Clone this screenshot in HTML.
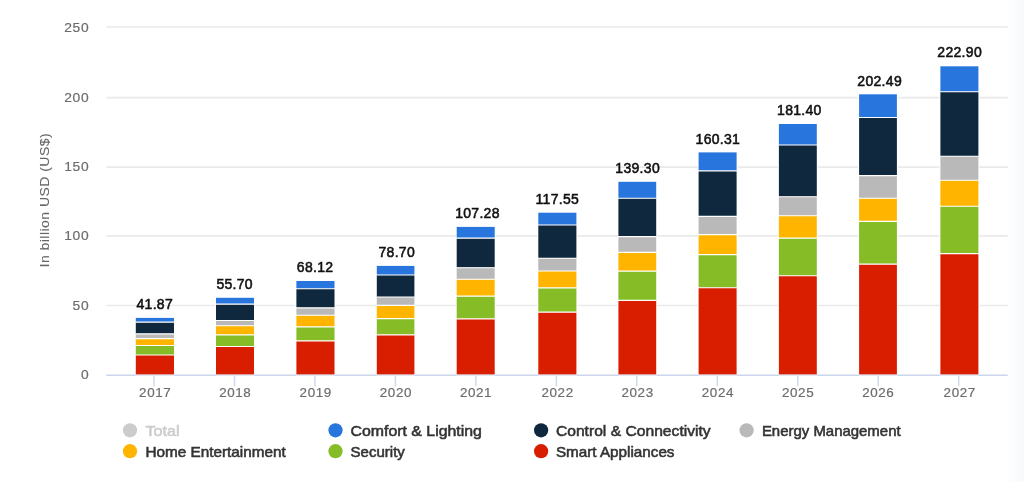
<!DOCTYPE html>
<html><head><meta charset="utf-8"><title>Smart Home revenue</title>
<style>
html,body{margin:0;padding:0;background:#fff;}
body{width:1024px;height:482px;overflow:hidden;position:relative;font-family:"Liberation Sans",sans-serif;}
svg{position:absolute;left:0;top:0;display:block;will-change:transform;filter:blur(0.4px);}
svg text{font-family:"Liberation Sans",sans-serif;}
.edge{position:absolute;right:0;top:0;width:18px;height:482px;background:linear-gradient(to right,rgba(246,248,250,0),rgba(246,248,250,1));}
</style></head><body>
<div class="edge"></div>
<svg width="1024" height="482" viewBox="0 0 1024 482">
<g stroke="#eaeaea" stroke-width="1.7">
<line x1="106.3" x2="1007.7" y1="27.0" y2="27.0"/>
<line x1="106.3" x2="1007.7" y1="97.6" y2="97.6"/>
<line x1="106.3" x2="1007.7" y1="167.1" y2="167.1"/>
<line x1="106.3" x2="1007.7" y1="235.8" y2="235.8"/>
<line x1="106.3" x2="1007.7" y1="305.5" y2="305.5"/>
</g>
<g><rect x="134.8" y="316.9" width="40.2" height="58.0" fill="#fff"/><rect x="135.8" y="317.9" width="38.2" height="4.2" fill="#2875dd"/><rect x="135.8" y="322.1" width="38.2" height="11.8" fill="#0f283e"/><rect x="135.8" y="333.9" width="38.2" height="4.7" fill="#b9b9b9"/><rect x="135.8" y="338.6" width="38.2" height="6.9" fill="#ffb400"/><rect x="135.8" y="345.5" width="38.2" height="9.5" fill="#86bc25"/><rect x="135.8" y="355.0" width="38.2" height="19.9" fill="#d91e00"/><line x1="135.3" x2="174.5" y1="322.1" y2="322.1" stroke="#fff" stroke-width="1.1"/><line x1="135.3" x2="174.5" y1="333.9" y2="333.9" stroke="#fff" stroke-width="1.1"/><line x1="135.3" x2="174.5" y1="338.6" y2="338.6" stroke="#fff" stroke-width="1.1"/><line x1="135.3" x2="174.5" y1="345.5" y2="345.5" stroke="#fff" stroke-width="1.1"/><line x1="135.3" x2="174.5" y1="355.0" y2="355.0" stroke="#fff" stroke-width="1.1"/></g>
<g><rect x="215.0" y="296.8" width="40.0" height="78.1" fill="#fff"/><rect x="216.0" y="297.8" width="38.0" height="6.3" fill="#2875dd"/><rect x="216.0" y="304.1" width="38.0" height="16.4" fill="#0f283e"/><rect x="216.0" y="320.5" width="38.0" height="5.3" fill="#b9b9b9"/><rect x="216.0" y="325.8" width="38.0" height="9.1" fill="#ffb400"/><rect x="216.0" y="334.9" width="38.0" height="11.6" fill="#86bc25"/><rect x="216.0" y="346.5" width="38.0" height="28.4" fill="#d91e00"/><line x1="215.5" x2="254.5" y1="304.1" y2="304.1" stroke="#fff" stroke-width="1.1"/><line x1="215.5" x2="254.5" y1="320.5" y2="320.5" stroke="#fff" stroke-width="1.1"/><line x1="215.5" x2="254.5" y1="325.8" y2="325.8" stroke="#fff" stroke-width="1.1"/><line x1="215.5" x2="254.5" y1="334.9" y2="334.9" stroke="#fff" stroke-width="1.1"/><line x1="215.5" x2="254.5" y1="346.5" y2="346.5" stroke="#fff" stroke-width="1.1"/></g>
<g><rect x="295.4" y="280.0" width="40.1" height="94.9" fill="#fff"/><rect x="296.4" y="281.0" width="38.1" height="7.7" fill="#2875dd"/><rect x="296.4" y="288.7" width="38.1" height="19.2" fill="#0f283e"/><rect x="296.4" y="307.9" width="38.1" height="7.3" fill="#b9b9b9"/><rect x="296.4" y="315.2" width="38.1" height="11.7" fill="#ffb400"/><rect x="296.4" y="326.9" width="38.1" height="14.0" fill="#86bc25"/><rect x="296.4" y="340.9" width="38.1" height="34.0" fill="#d91e00"/><line x1="295.9" x2="335.0" y1="288.7" y2="288.7" stroke="#fff" stroke-width="1.1"/><line x1="295.9" x2="335.0" y1="307.9" y2="307.9" stroke="#fff" stroke-width="1.1"/><line x1="295.9" x2="335.0" y1="315.2" y2="315.2" stroke="#fff" stroke-width="1.1"/><line x1="295.9" x2="335.0" y1="326.9" y2="326.9" stroke="#fff" stroke-width="1.1"/><line x1="295.9" x2="335.0" y1="340.9" y2="340.9" stroke="#fff" stroke-width="1.1"/></g>
<g><rect x="375.8" y="264.9" width="39.6" height="110.0" fill="#fff"/><rect x="376.8" y="265.9" width="37.6" height="9.1" fill="#2875dd"/><rect x="376.8" y="275.0" width="37.6" height="22.0" fill="#0f283e"/><rect x="376.8" y="297.0" width="37.6" height="8.4" fill="#b9b9b9"/><rect x="376.8" y="305.4" width="37.6" height="13.2" fill="#ffb400"/><rect x="376.8" y="318.6" width="37.6" height="16.3" fill="#86bc25"/><rect x="376.8" y="334.9" width="37.6" height="40.0" fill="#d91e00"/><line x1="376.3" x2="414.9" y1="275.0" y2="275.0" stroke="#fff" stroke-width="1.1"/><line x1="376.3" x2="414.9" y1="297.0" y2="297.0" stroke="#fff" stroke-width="1.1"/><line x1="376.3" x2="414.9" y1="305.4" y2="305.4" stroke="#fff" stroke-width="1.1"/><line x1="376.3" x2="414.9" y1="318.6" y2="318.6" stroke="#fff" stroke-width="1.1"/><line x1="376.3" x2="414.9" y1="334.9" y2="334.9" stroke="#fff" stroke-width="1.1"/></g>
<g><rect x="455.7" y="225.9" width="40.0" height="149.0" fill="#fff"/><rect x="456.7" y="226.9" width="38.0" height="11.2" fill="#2875dd"/><rect x="456.7" y="238.1" width="38.0" height="29.6" fill="#0f283e"/><rect x="456.7" y="267.7" width="38.0" height="11.6" fill="#b9b9b9"/><rect x="456.7" y="279.3" width="38.0" height="16.8" fill="#ffb400"/><rect x="456.7" y="296.1" width="38.0" height="22.8" fill="#86bc25"/><rect x="456.7" y="318.9" width="38.0" height="56.0" fill="#d91e00"/><line x1="456.2" x2="495.2" y1="238.1" y2="238.1" stroke="#fff" stroke-width="1.1"/><line x1="456.2" x2="495.2" y1="267.7" y2="267.7" stroke="#fff" stroke-width="1.1"/><line x1="456.2" x2="495.2" y1="279.3" y2="279.3" stroke="#fff" stroke-width="1.1"/><line x1="456.2" x2="495.2" y1="296.1" y2="296.1" stroke="#fff" stroke-width="1.1"/><line x1="456.2" x2="495.2" y1="318.9" y2="318.9" stroke="#fff" stroke-width="1.1"/></g>
<g><rect x="537.3" y="211.7" width="40.1" height="163.2" fill="#fff"/><rect x="538.3" y="212.7" width="38.1" height="12.3" fill="#2875dd"/><rect x="538.3" y="225.0" width="38.1" height="33.3" fill="#0f283e"/><rect x="538.3" y="258.3" width="38.1" height="12.7" fill="#b9b9b9"/><rect x="538.3" y="271.0" width="38.1" height="16.9" fill="#ffb400"/><rect x="538.3" y="287.9" width="38.1" height="24.2" fill="#86bc25"/><rect x="538.3" y="312.1" width="38.1" height="62.8" fill="#d91e00"/><line x1="537.8" x2="576.9" y1="225.0" y2="225.0" stroke="#fff" stroke-width="1.1"/><line x1="537.8" x2="576.9" y1="258.3" y2="258.3" stroke="#fff" stroke-width="1.1"/><line x1="537.8" x2="576.9" y1="271.0" y2="271.0" stroke="#fff" stroke-width="1.1"/><line x1="537.8" x2="576.9" y1="287.9" y2="287.9" stroke="#fff" stroke-width="1.1"/><line x1="537.8" x2="576.9" y1="312.1" y2="312.1" stroke="#fff" stroke-width="1.1"/></g>
<g><rect x="617.4" y="180.8" width="39.8" height="194.1" fill="#fff"/><rect x="618.4" y="181.8" width="37.8" height="16.4" fill="#2875dd"/><rect x="618.4" y="198.2" width="37.8" height="38.4" fill="#0f283e"/><rect x="618.4" y="236.6" width="37.8" height="15.8" fill="#b9b9b9"/><rect x="618.4" y="252.4" width="37.8" height="18.7" fill="#ffb400"/><rect x="618.4" y="271.1" width="37.8" height="29.3" fill="#86bc25"/><rect x="618.4" y="300.4" width="37.8" height="74.5" fill="#d91e00"/><line x1="617.9" x2="656.7" y1="198.2" y2="198.2" stroke="#fff" stroke-width="1.1"/><line x1="617.9" x2="656.7" y1="236.6" y2="236.6" stroke="#fff" stroke-width="1.1"/><line x1="617.9" x2="656.7" y1="252.4" y2="252.4" stroke="#fff" stroke-width="1.1"/><line x1="617.9" x2="656.7" y1="271.1" y2="271.1" stroke="#fff" stroke-width="1.1"/><line x1="617.9" x2="656.7" y1="300.4" y2="300.4" stroke="#fff" stroke-width="1.1"/></g>
<g><rect x="697.6" y="151.4" width="40.0" height="223.5" fill="#fff"/><rect x="698.6" y="152.4" width="38.0" height="18.5" fill="#2875dd"/><rect x="698.6" y="170.9" width="38.0" height="45.5" fill="#0f283e"/><rect x="698.6" y="216.4" width="38.0" height="18.2" fill="#b9b9b9"/><rect x="698.6" y="234.6" width="38.0" height="20.0" fill="#ffb400"/><rect x="698.6" y="254.6" width="38.0" height="33.1" fill="#86bc25"/><rect x="698.6" y="287.7" width="38.0" height="87.2" fill="#d91e00"/><line x1="698.1" x2="737.1" y1="170.9" y2="170.9" stroke="#fff" stroke-width="1.1"/><line x1="698.1" x2="737.1" y1="216.4" y2="216.4" stroke="#fff" stroke-width="1.1"/><line x1="698.1" x2="737.1" y1="234.6" y2="234.6" stroke="#fff" stroke-width="1.1"/><line x1="698.1" x2="737.1" y1="254.6" y2="254.6" stroke="#fff" stroke-width="1.1"/><line x1="698.1" x2="737.1" y1="287.7" y2="287.7" stroke="#fff" stroke-width="1.1"/></g>
<g><rect x="777.9" y="123.0" width="39.9" height="251.9" fill="#fff"/><rect x="778.9" y="124.0" width="37.9" height="21.0" fill="#2875dd"/><rect x="778.9" y="145.0" width="37.9" height="51.8" fill="#0f283e"/><rect x="778.9" y="196.8" width="37.9" height="18.9" fill="#b9b9b9"/><rect x="778.9" y="215.7" width="37.9" height="22.4" fill="#ffb400"/><rect x="778.9" y="238.1" width="37.9" height="37.7" fill="#86bc25"/><rect x="778.9" y="275.8" width="37.9" height="99.1" fill="#d91e00"/><line x1="778.4" x2="817.3" y1="145.0" y2="145.0" stroke="#fff" stroke-width="1.1"/><line x1="778.4" x2="817.3" y1="196.8" y2="196.8" stroke="#fff" stroke-width="1.1"/><line x1="778.4" x2="817.3" y1="215.7" y2="215.7" stroke="#fff" stroke-width="1.1"/><line x1="778.4" x2="817.3" y1="238.1" y2="238.1" stroke="#fff" stroke-width="1.1"/><line x1="778.4" x2="817.3" y1="275.8" y2="275.8" stroke="#fff" stroke-width="1.1"/></g>
<g><rect x="858.1" y="93.3" width="39.8" height="281.6" fill="#fff"/><rect x="859.1" y="94.3" width="37.8" height="23.2" fill="#2875dd"/><rect x="859.1" y="117.5" width="37.8" height="58.1" fill="#0f283e"/><rect x="859.1" y="175.6" width="37.8" height="22.7" fill="#b9b9b9"/><rect x="859.1" y="198.3" width="37.8" height="23.1" fill="#ffb400"/><rect x="859.1" y="221.4" width="37.8" height="42.7" fill="#86bc25"/><rect x="859.1" y="264.1" width="37.8" height="110.8" fill="#d91e00"/><line x1="858.6" x2="897.4" y1="117.5" y2="117.5" stroke="#fff" stroke-width="1.1"/><line x1="858.6" x2="897.4" y1="175.6" y2="175.6" stroke="#fff" stroke-width="1.1"/><line x1="858.6" x2="897.4" y1="198.3" y2="198.3" stroke="#fff" stroke-width="1.1"/><line x1="858.6" x2="897.4" y1="221.4" y2="221.4" stroke="#fff" stroke-width="1.1"/><line x1="858.6" x2="897.4" y1="264.1" y2="264.1" stroke="#fff" stroke-width="1.1"/></g>
<g><rect x="939.4" y="65.3" width="40.0" height="309.6" fill="#fff"/><rect x="940.4" y="66.3" width="38.0" height="25.5" fill="#2875dd"/><rect x="940.4" y="91.8" width="38.0" height="64.5" fill="#0f283e"/><rect x="940.4" y="156.3" width="38.0" height="24.0" fill="#b9b9b9"/><rect x="940.4" y="180.3" width="38.0" height="25.9" fill="#ffb400"/><rect x="940.4" y="206.2" width="38.0" height="47.4" fill="#86bc25"/><rect x="940.4" y="253.6" width="38.0" height="121.3" fill="#d91e00"/><line x1="939.9" x2="978.9" y1="91.8" y2="91.8" stroke="#fff" stroke-width="1.1"/><line x1="939.9" x2="978.9" y1="156.3" y2="156.3" stroke="#fff" stroke-width="1.1"/><line x1="939.9" x2="978.9" y1="180.3" y2="180.3" stroke="#fff" stroke-width="1.1"/><line x1="939.9" x2="978.9" y1="206.2" y2="206.2" stroke="#fff" stroke-width="1.1"/><line x1="939.9" x2="978.9" y1="253.6" y2="253.6" stroke="#fff" stroke-width="1.1"/></g>
<line x1="106.3" x2="1007.7" y1="375.2" y2="375.2" stroke="#ccd6eb" stroke-width="1.4"/>
<line x1="135.3" x2="174.5" y1="375.2" y2="375.2" stroke="#fff" stroke-opacity="0.45" stroke-width="1.6"/>
<line x1="215.5" x2="254.5" y1="375.2" y2="375.2" stroke="#fff" stroke-opacity="0.45" stroke-width="1.6"/>
<line x1="295.9" x2="335.0" y1="375.2" y2="375.2" stroke="#fff" stroke-opacity="0.45" stroke-width="1.6"/>
<line x1="376.3" x2="414.9" y1="375.2" y2="375.2" stroke="#fff" stroke-opacity="0.45" stroke-width="1.6"/>
<line x1="456.2" x2="495.2" y1="375.2" y2="375.2" stroke="#fff" stroke-opacity="0.45" stroke-width="1.6"/>
<line x1="537.8" x2="576.9" y1="375.2" y2="375.2" stroke="#fff" stroke-opacity="0.45" stroke-width="1.6"/>
<line x1="617.9" x2="656.7" y1="375.2" y2="375.2" stroke="#fff" stroke-opacity="0.45" stroke-width="1.6"/>
<line x1="698.1" x2="737.1" y1="375.2" y2="375.2" stroke="#fff" stroke-opacity="0.45" stroke-width="1.6"/>
<line x1="778.4" x2="817.3" y1="375.2" y2="375.2" stroke="#fff" stroke-opacity="0.45" stroke-width="1.6"/>
<line x1="858.6" x2="897.4" y1="375.2" y2="375.2" stroke="#fff" stroke-opacity="0.45" stroke-width="1.6"/>
<line x1="939.9" x2="978.9" y1="375.2" y2="375.2" stroke="#fff" stroke-opacity="0.45" stroke-width="1.6"/>
<g stroke="#d0d9ed" stroke-width="1.5">
<line x1="154.0" x2="154.0" y1="375.4" y2="386.2"/>
<line x1="234.5" x2="234.5" y1="375.4" y2="386.2"/>
<line x1="314.9" x2="314.9" y1="375.4" y2="386.2"/>
<line x1="395.4" x2="395.4" y1="375.4" y2="386.2"/>
<line x1="475.9" x2="475.9" y1="375.4" y2="386.2"/>
<line x1="556.4" x2="556.4" y1="375.4" y2="386.2"/>
<line x1="636.8" x2="636.8" y1="375.4" y2="386.2"/>
<line x1="717.3" x2="717.3" y1="375.4" y2="386.2"/>
<line x1="797.8" x2="797.8" y1="375.4" y2="386.2"/>
<line x1="878.2" x2="878.2" y1="375.4" y2="386.2"/>
<line x1="958.7" x2="958.7" y1="375.4" y2="386.2"/>
</g>
<g font-size="12.6" fill="#6c6c6c" stroke="#6c6c6c" stroke-width="0.18" text-anchor="end" letter-spacing="0.55">
<text transform="translate(88.6,32.3) scale(1.1,1)" x="0.55" y="0">250</text>
<text transform="translate(88.6,101.9) scale(1.1,1)" x="0.55" y="0">200</text>
<text transform="translate(88.6,170.7) scale(1.1,1)" x="0.55" y="0">150</text>
<text transform="translate(88.6,239.7) scale(1.1,1)" x="0.55" y="0">100</text>
<text transform="translate(88.6,309.6) scale(1.1,1)" x="0.55" y="0">50</text>
<text transform="translate(88.6,379.3) scale(1.1,1)" x="0.55" y="0">0</text>
</g>
<g font-size="12.2" fill="#6c6c6c" stroke="#6c6c6c" stroke-width="0.18" text-anchor="middle" letter-spacing="0.55">
<text transform="translate(154.9,397.1) scale(1.1,1)" x="0.28" y="0">2017</text>
<text transform="translate(235.0,397.1) scale(1.1,1)" x="0.28" y="0">2018</text>
<text transform="translate(315.4,397.1) scale(1.1,1)" x="0.28" y="0">2019</text>
<text transform="translate(395.6,397.1) scale(1.1,1)" x="0.28" y="0">2020</text>
<text transform="translate(475.7,397.1) scale(1.1,1)" x="0.28" y="0">2021</text>
<text transform="translate(557.3,397.1) scale(1.1,1)" x="0.28" y="0">2022</text>
<text transform="translate(637.3,397.1) scale(1.1,1)" x="0.28" y="0">2023</text>
<text transform="translate(717.6,397.1) scale(1.1,1)" x="0.28" y="0">2024</text>
<text transform="translate(797.8,397.1) scale(1.1,1)" x="0.28" y="0">2025</text>
<text transform="translate(878.0,397.1) scale(1.1,1)" x="0.28" y="0">2026</text>
<text transform="translate(959.4,397.1) scale(1.1,1)" x="0.28" y="0">2027</text>
</g>
<g font-size="14" font-weight="normal" fill="#111" stroke="#111" stroke-width="0.55" text-anchor="middle" letter-spacing="0.3">
<text transform="translate(154.6,309.3) scale(1.0,1)" x="0.15" y="0">41.87</text>
<text transform="translate(234.5,289.2) scale(1.0,1)" x="0.15" y="0">55.70</text>
<text transform="translate(314.9,272.4) scale(1.0,1)" x="0.15" y="0">68.12</text>
<text transform="translate(396.6,257.3) scale(1.0,1)" x="0.15" y="0">78.70</text>
<text transform="translate(477.3,218.3) scale(1.0,1)" x="0.15" y="0">107.28</text>
<text transform="translate(557.2,204.1) scale(1.0,1)" x="0.15" y="0">117.55</text>
<text transform="translate(637.5,173.2) scale(1.0,1)" x="0.15" y="0">139.30</text>
<text transform="translate(717.7,143.8) scale(1.0,1)" x="0.15" y="0">160.31</text>
<text transform="translate(799.2,115.4) scale(1.0,1)" x="0.15" y="0">181.40</text>
<text transform="translate(879.5,85.7) scale(1.0,1)" x="0.15" y="0">202.49</text>
<text transform="translate(959.5,57.1) scale(1.0,1)" x="0.15" y="0">222.90</text>
</g>
<text transform="translate(49.4,200.2) rotate(-90) scale(1.045,1)" font-size="13.4" fill="#666" stroke="#666" stroke-width="0.08" text-anchor="middle" letter-spacing="0.45">In billion USD (US$)</text>
<g font-size="14.5" font-weight="normal" fill="#333" stroke="#333" stroke-width="0.55">
<circle cx="130.0" cy="430.3" r="7.1" fill="#cccccc" stroke="none"/><text x="145.4" y="436.0" textLength="34.3" lengthAdjust="spacingAndGlyphs" fill="#cccccc" stroke="#cccccc">Total</text>
<circle cx="335.5" cy="430.3" r="7.1" fill="#2875dd" stroke="none"/><text x="350.6" y="436.0" textLength="131.3" lengthAdjust="spacingAndGlyphs">Comfort &amp; Lighting</text>
<circle cx="541.1" cy="430.3" r="7.1" fill="#0f283e" stroke="none"/><text x="555.9" y="436.0" textLength="154.8" lengthAdjust="spacingAndGlyphs">Control &amp; Connectivity</text>
<circle cx="746.6" cy="430.3" r="7.1" fill="#b9b9b9" stroke="none"/><text x="761.9" y="436.0" textLength="138.7" lengthAdjust="spacingAndGlyphs">Energy Management</text>
<circle cx="130.0" cy="451.2" r="7.1" fill="#ffb400" stroke="none"/><text x="145.4" y="457.3" textLength="140.4" lengthAdjust="spacingAndGlyphs">Home Entertainment</text>
<circle cx="335.5" cy="451.2" r="7.1" fill="#86bc25" stroke="none"/><text x="350.6" y="457.3" textLength="54.3" lengthAdjust="spacingAndGlyphs">Security</text>
<circle cx="541.1" cy="451.2" r="7.1" fill="#d91e00" stroke="none"/><text x="555.9" y="457.3" textLength="118.6" lengthAdjust="spacingAndGlyphs">Smart Appliances</text>
</g>
</svg>
</body></html>
